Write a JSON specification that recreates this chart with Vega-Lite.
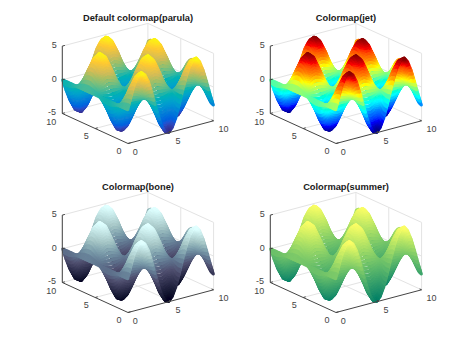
{"$schema":"https://vega.github.io/schema/vega-lite/v6.json","background":"white","padding":{"left":34,"top":13.5,"right":0,"bottom":0},"config":{"view":{"stroke":null},"title":{"font":"Liberation Sans","fontSize":9.3,"fontWeight":"bold","color":"#1a1a1a","offset":-3}},"columns":2,"bounds":"flush","spacing":{"row":19,"column":0},"resolve":{"scale":{"color":"independent"}},
"datasets":{
"frame":[{"kind":"grid","x":0,"y":10,"z":-5,"x2":0,"y2":10,"z2":5},{"kind":"grid","x":5,"y":10,"z":-5,"x2":5,"y2":10,"z2":5},{"kind":"grid","x":10,"y":10,"z":-5,"x2":10,"y2":10,"z2":5},{"kind":"grid","x":10,"y":5,"z":-5,"x2":10,"y2":5,"z2":5},{"kind":"grid","x":10,"y":0,"z":-5,"x2":10,"y2":0,"z2":5},{"kind":"grid","x":0,"y":10,"z":0,"x2":10,"y2":10,"z2":0},{"kind":"grid","x":0,"y":10,"z":5,"x2":10,"y2":10,"z2":5},{"kind":"grid","x":0,"y":10,"z":-5,"x2":10,"y2":10,"z2":-5},{"kind":"grid","x":10,"y":0,"z":0,"x2":10,"y2":10,"z2":0},{"kind":"grid","x":10,"y":0,"z":5,"x2":10,"y2":10,"z2":5},{"kind":"grid","x":10,"y":0,"z":-5,"x2":10,"y2":10,"z2":-5},{"kind":"grid","x":5,"y":0,"z":-5,"x2":5,"y2":10,"z2":-5},{"kind":"grid","x":0,"y":5,"z":-5,"x2":10,"y2":5,"z2":-5},
{"kind":"axis","x":0,"y":10,"z":-5,"x2":0,"y2":10,"z2":5},{"kind":"axis","x":0,"y":0,"z":-5,"x2":0,"y2":10,"z2":-5},{"kind":"axis","x":0,"y":0,"z":-5,"x2":10,"y2":0,"z2":-5},{"kind":"axis","x":0,"y":10,"z":5,"x2":0.3,"y2":10,"z2":5},{"kind":"axis","x":0,"y":10,"z":0,"x2":0.3,"y2":10,"z2":0},{"kind":"axis","x":0,"y":10,"z":-5,"x2":0.3,"y2":10,"z2":-5},{"kind":"axis","x":5,"y":0,"z":-5,"x2":5,"y2":0.3,"z2":-5},{"kind":"axis","x":10,"y":0,"z":-5,"x2":10,"y2":0.3,"z2":-5},{"kind":"axis","x":0,"y":5,"z":-5,"x2":0.3,"y2":5,"z2":-5},{"kind":"axis","x":0,"y":0,"z":-5,"x2":0.3,"y2":0,"z2":-5}],
"ticks":[{"axis":"x","x":0,"y":0,"z":-5,"label":"0"},{"axis":"x","x":5,"y":0,"z":-5,"label":"5"},{"axis":"x","x":10,"y":0,"z":-5,"label":"10"},{"axis":"y","x":0,"y":0,"z":-5,"label":"0"},{"axis":"y","x":0,"y":5,"z":-5,"label":"5"},{"axis":"y","x":0,"y":10,"z":-5,"label":"10"},{"axis":"z","x":0,"y":10,"z":-5,"label":"-5"},{"axis":"z","x":0,"y":10,"z":0,"label":"0"},{"axis":"z","x":0,"y":10,"z":5,"label":"5"}],
"surface":[
{"x":0,"y":0,"z":0},{"x":0.4,"y":0,"z":1.9},{"x":0.8,"y":0,"z":3.6},{"x":1.2,"y":0,"z":4.7},{"x":1.6,"y":0,"z":5},{"x":2,"y":0,"z":4.5},{"x":2.4,"y":0,"z":3.4},{"x":2.8,"y":0,"z":1.7},{"x":3.2,"y":0,"z":-0.3},{"x":3.6,"y":0,"z":-2.2},{"x":4,"y":0,"z":-3.8},{"x":4.4,"y":0,"z":-4.8},{"x":4.8,"y":0,"z":-5},{"x":5.2,"y":0,"z":-4.4},{"x":5.6,"y":0,"z":-3.2},{"x":6,"y":0,"z":-1.4},{"x":6.4,"y":0,"z":0.6},{"x":6.8,"y":0,"z":2.5},{"x":7.2,"y":0,"z":4},{"x":7.6,"y":0,"z":4.8},{"x":8,"y":0,"z":5},{"x":8.4,"y":0,"z":4.3},{"x":8.8,"y":0,"z":2.9},{"x":9.2,"y":0,"z":1.1},{"x":9.6,"y":0,"z":-0.9},{"x":10,"y":0,"z":-2.7},
{"x":0,"y":0.4,"z":0},{"x":0.4,"y":0.4,"z":1.8},{"x":0.8,"y":0.4,"z":3.3},{"x":1.2,"y":0.4,"z":4.3},{"x":1.6,"y":0.4,"z":4.6},{"x":2,"y":0.4,"z":4.2},{"x":2.4,"y":0.4,"z":3.1},{"x":2.8,"y":0.4,"z":1.5},{"x":3.2,"y":0.4,"z":-0.3},{"x":3.6,"y":0.4,"z":-2},{"x":4,"y":0.4,"z":-3.5},{"x":4.4,"y":0.4,"z":-4.4},{"x":4.8,"y":0.4,"z":-4.6},{"x":5.2,"y":0.4,"z":-4.1},{"x":5.6,"y":0.4,"z":-2.9},{"x":6,"y":0.4,"z":-1.3},{"x":6.4,"y":0.4,"z":0.5},{"x":6.8,"y":0.4,"z":2.3},{"x":7.2,"y":0.4,"z":3.7},{"x":7.6,"y":0.4,"z":4.5},{"x":8,"y":0.4,"z":4.6},{"x":8.4,"y":0.4,"z":3.9},{"x":8.8,"y":0.4,"z":2.7},{"x":9.2,"y":0.4,"z":1},{"x":9.6,"y":0.4,"z":-0.8},{"x":10,"y":0.4,"z":-2.5},
{"x":0,"y":0.8,"z":0},{"x":0.4,"y":0.8,"z":1.4},{"x":0.8,"y":0.8,"z":2.5},{"x":1.2,"y":0.8,"z":3.2},{"x":1.6,"y":0.8,"z":3.5},{"x":2,"y":0.8,"z":3.2},{"x":2.4,"y":0.8,"z":2.4},{"x":2.8,"y":0.8,"z":1.2},{"x":3.2,"y":0.8,"z":-0.2},{"x":3.6,"y":0.8,"z":-1.5},{"x":4,"y":0.8,"z":-2.6},{"x":4.4,"y":0.8,"z":-3.3},{"x":4.8,"y":0.8,"z":-3.5},{"x":5.2,"y":0.8,"z":-3.1},{"x":5.6,"y":0.8,"z":-2.2},{"x":6,"y":0.8,"z":-1},{"x":6.4,"y":0.8,"z":0.4},{"x":6.8,"y":0.8,"z":1.7},{"x":7.2,"y":0.8,"z":2.8},{"x":7.6,"y":0.8,"z":3.4},{"x":8,"y":0.8,"z":3.4},{"x":8.4,"y":0.8,"z":3},{"x":8.8,"y":0.8,"z":2},{"x":9.2,"y":0.8,"z":0.8},{"x":9.6,"y":0.8,"z":-0.6},{"x":10,"y":0.8,"z":-1.9},
{"x":0,"y":1.2,"z":0},{"x":0.4,"y":1.2,"z":0.7},{"x":0.8,"y":1.2,"z":1.3},{"x":1.2,"y":1.2,"z":1.7},{"x":1.6,"y":1.2,"z":1.8},{"x":2,"y":1.2,"z":1.6},{"x":2.4,"y":1.2,"z":1.2},{"x":2.8,"y":1.2,"z":0.6},{"x":3.2,"y":1.2,"z":-0.1},{"x":3.6,"y":1.2,"z":-0.8},{"x":4,"y":1.2,"z":-1.4},{"x":4.4,"y":1.2,"z":-1.7},{"x":4.8,"y":1.2,"z":-1.8},{"x":5.2,"y":1.2,"z":-1.6},{"x":5.6,"y":1.2,"z":-1.1},{"x":6,"y":1.2,"z":-0.5},{"x":6.4,"y":1.2,"z":0.2},{"x":6.8,"y":1.2,"z":0.9},{"x":7.2,"y":1.2,"z":1.4},{"x":7.6,"y":1.2,"z":1.8},{"x":8,"y":1.2,"z":1.8},{"x":8.4,"y":1.2,"z":1.5},{"x":8.8,"y":1.2,"z":1.1},{"x":9.2,"y":1.2,"z":0.4},{"x":9.6,"y":1.2,"z":-0.3},{"x":10,"y":1.2,"z":-1},
{"x":0,"y":1.6,"z":0},{"x":0.4,"y":1.6,"z":-0.1},{"x":0.8,"y":1.6,"z":-0.1},{"x":1.2,"y":1.6,"z":-0.1},{"x":1.6,"y":1.6,"z":-0.1},{"x":2,"y":1.6,"z":-0.1},{"x":2.4,"y":1.6,"z":-0.1},{"x":2.8,"y":1.6,"z":0},{"x":3.2,"y":1.6,"z":0},{"x":3.6,"y":1.6,"z":0.1},{"x":4,"y":1.6,"z":0.1},{"x":4.4,"y":1.6,"z":0.1},{"x":4.8,"y":1.6,"z":0.1},{"x":5.2,"y":1.6,"z":0.1},{"x":5.6,"y":1.6,"z":0.1},{"x":6,"y":1.6,"z":0},{"x":6.4,"y":1.6,"z":0},{"x":6.8,"y":1.6,"z":-0.1},{"x":7.2,"y":1.6,"z":-0.1},{"x":7.6,"y":1.6,"z":-0.1},{"x":8,"y":1.6,"z":-0.1},{"x":8.4,"y":1.6,"z":-0.1},{"x":8.8,"y":1.6,"z":-0.1},{"x":9.2,"y":1.6,"z":0},{"x":9.6,"y":1.6,"z":0},{"x":10,"y":1.6,"z":0.1},
{"x":0,"y":2,"z":0},{"x":0.4,"y":2,"z":-0.8},{"x":0.8,"y":2,"z":-1.5},{"x":1.2,"y":2,"z":-1.9},{"x":1.6,"y":2,"z":-2.1},{"x":2,"y":2,"z":-1.9},{"x":2.4,"y":2,"z":-1.4},{"x":2.8,"y":2,"z":-0.7},{"x":3.2,"y":2,"z":0.1},{"x":3.6,"y":2,"z":0.9},{"x":4,"y":2,"z":1.6},{"x":4.4,"y":2,"z":2},{"x":4.8,"y":2,"z":2.1},{"x":5.2,"y":2,"z":1.8},{"x":5.6,"y":2,"z":1.3},{"x":6,"y":2,"z":0.6},{"x":6.4,"y":2,"z":-0.2},{"x":6.8,"y":2,"z":-1},{"x":7.2,"y":2,"z":-1.7},{"x":7.6,"y":2,"z":-2},{"x":8,"y":2,"z":-2.1},{"x":8.4,"y":2,"z":-1.8},{"x":8.8,"y":2,"z":-1.2},{"x":9.2,"y":2,"z":-0.5},{"x":9.6,"y":2,"z":0.4},{"x":10,"y":2,"z":1.1},
{"x":0,"y":2.4,"z":0},{"x":0.4,"y":2.4,"z":-1.4},{"x":0.8,"y":2.4,"z":-2.6},{"x":1.2,"y":2.4,"z":-3.4},{"x":1.6,"y":2.4,"z":-3.7},{"x":2,"y":2.4,"z":-3.4},{"x":2.4,"y":2.4,"z":-2.5},{"x":2.8,"y":2.4,"z":-1.2},{"x":3.2,"y":2.4,"z":0.2},{"x":3.6,"y":2.4,"z":1.6},{"x":4,"y":2.4,"z":2.8},{"x":4.4,"y":2.4,"z":3.5},{"x":4.8,"y":2.4,"z":3.7},{"x":5.2,"y":2.4,"z":3.3},{"x":5.6,"y":2.4,"z":2.3},{"x":6,"y":2.4,"z":1},{"x":6.4,"y":2.4,"z":-0.4},{"x":6.8,"y":2.4,"z":-1.8},{"x":7.2,"y":2.4,"z":-2.9},{"x":7.6,"y":2.4,"z":-3.6},{"x":8,"y":2.4,"z":-3.7},{"x":8.4,"y":2.4,"z":-3.1},{"x":8.8,"y":2.4,"z":-2.2},{"x":9.2,"y":2.4,"z":-0.8},{"x":9.6,"y":2.4,"z":0.6},{"x":10,"y":2.4,"z":2},
{"x":0,"y":2.8,"z":0},{"x":0.4,"y":2.8,"z":-1.8},{"x":0.8,"y":2.8,"z":-3.4},{"x":1.2,"y":2.8,"z":-4.4},{"x":1.6,"y":2.8,"z":-4.7},{"x":2,"y":2.8,"z":-4.3},{"x":2.4,"y":2.8,"z":-3.2},{"x":2.8,"y":2.8,"z":-1.6},{"x":3.2,"y":2.8,"z":0.3},{"x":3.6,"y":2.8,"z":2.1},{"x":4,"y":2.8,"z":3.6},{"x":4.4,"y":2.8,"z":4.5},{"x":4.8,"y":2.8,"z":4.7},{"x":5.2,"y":2.8,"z":4.2},{"x":5.6,"y":2.8,"z":3},{"x":6,"y":2.8,"z":1.3},{"x":6.4,"y":2.8,"z":-0.5},{"x":6.8,"y":2.8,"z":-2.3},{"x":7.2,"y":2.8,"z":-3.7},{"x":7.6,"y":2.8,"z":-4.6},{"x":8,"y":2.8,"z":-4.7},{"x":8.4,"y":2.8,"z":-4},{"x":8.8,"y":2.8,"z":-2.8},{"x":9.2,"y":2.8,"z":-1},{"x":9.6,"y":2.8,"z":0.8},{"x":10,"y":2.8,"z":2.6},
{"x":0,"y":3.2,"z":0},{"x":0.4,"y":3.2,"z":-1.9},{"x":0.8,"y":3.2,"z":-3.6},{"x":1.2,"y":3.2,"z":-4.7},{"x":1.6,"y":3.2,"z":-5},{"x":2,"y":3.2,"z":-4.5},{"x":2.4,"y":3.2,"z":-3.4},{"x":2.8,"y":3.2,"z":-1.7},{"x":3.2,"y":3.2,"z":0.3},{"x":3.6,"y":3.2,"z":2.2},{"x":4,"y":3.2,"z":3.8},{"x":4.4,"y":3.2,"z":4.8},{"x":4.8,"y":3.2,"z":5},{"x":5.2,"y":3.2,"z":4.4},{"x":5.6,"y":3.2,"z":3.2},{"x":6,"y":3.2,"z":1.4},{"x":6.4,"y":3.2,"z":-0.6},{"x":6.8,"y":3.2,"z":-2.5},{"x":7.2,"y":3.2,"z":-4},{"x":7.6,"y":3.2,"z":-4.8},{"x":8,"y":3.2,"z":-4.9},{"x":8.4,"y":3.2,"z":-4.3},{"x":8.8,"y":3.2,"z":-2.9},{"x":9.2,"y":3.2,"z":-1.1},{"x":9.6,"y":3.2,"z":0.9},{"x":10,"y":3.2,"z":2.7},
{"x":0,"y":3.6,"z":0},{"x":0.4,"y":3.6,"z":-1.7},{"x":0.8,"y":3.6,"z":-3.2},{"x":1.2,"y":3.6,"z":-4.2},{"x":1.6,"y":3.6,"z":-4.5},{"x":2,"y":3.6,"z":-4.1},{"x":2.4,"y":3.6,"z":-3},{"x":2.8,"y":3.6,"z":-1.5},{"x":3.2,"y":3.6,"z":0.3},{"x":3.6,"y":3.6,"z":2},{"x":4,"y":3.6,"z":3.4},{"x":4.4,"y":3.6,"z":4.3},{"x":4.8,"y":3.6,"z":4.5},{"x":5.2,"y":3.6,"z":4},{"x":5.6,"y":3.6,"z":2.8},{"x":6,"y":3.6,"z":1.3},{"x":6.4,"y":3.6,"z":-0.5},{"x":6.8,"y":3.6,"z":-2.2},{"x":7.2,"y":3.6,"z":-3.6},{"x":7.6,"y":3.6,"z":-4.3},{"x":8,"y":3.6,"z":-4.4},{"x":8.4,"y":3.6,"z":-3.8},{"x":8.8,"y":3.6,"z":-2.6},{"x":9.2,"y":3.6,"z":-1},{"x":9.6,"y":3.6,"z":0.8},{"x":10,"y":3.6,"z":2.4},
{"x":0,"y":4,"z":0},{"x":0.4,"y":4,"z":-1.3},{"x":0.8,"y":4,"z":-2.3},{"x":1.2,"y":4,"z":-3},{"x":1.6,"y":4,"z":-3.3},{"x":2,"y":4,"z":-3},{"x":2.4,"y":4,"z":-2.2},{"x":2.8,"y":4,"z":-1.1},{"x":3.2,"y":4,"z":0.2},{"x":3.6,"y":4,"z":1.4},{"x":4,"y":4,"z":2.5},{"x":4.4,"y":4,"z":3.1},{"x":4.8,"y":4,"z":3.3},{"x":5.2,"y":4,"z":2.9},{"x":5.6,"y":4,"z":2.1},{"x":6,"y":4,"z":0.9},{"x":6.4,"y":4,"z":-0.4},{"x":6.8,"y":4,"z":-1.6},{"x":7.2,"y":4,"z":-2.6},{"x":7.6,"y":4,"z":-3.2},{"x":8,"y":4,"z":-3.2},{"x":8.4,"y":4,"z":-2.8},{"x":8.8,"y":4,"z":-1.9},{"x":9.2,"y":4,"z":-0.7},{"x":9.6,"y":4,"z":0.6},{"x":10,"y":4,"z":1.8},
{"x":0,"y":4.4,"z":0},{"x":0.4,"y":4.4,"z":-0.6},{"x":0.8,"y":4.4,"z":-1.1},{"x":1.2,"y":4.4,"z":-1.4},{"x":1.6,"y":4.4,"z":-1.5},{"x":2,"y":4.4,"z":-1.4},{"x":2.4,"y":4.4,"z":-1},{"x":2.8,"y":4.4,"z":-0.5},{"x":3.2,"y":4.4,"z":0.1},{"x":3.6,"y":4.4,"z":0.7},{"x":4,"y":4.4,"z":1.2},{"x":4.4,"y":4.4,"z":1.5},{"x":4.8,"y":4.4,"z":1.5},{"x":5.2,"y":4.4,"z":1.4},{"x":5.6,"y":4.4,"z":1},{"x":6,"y":4.4,"z":0.4},{"x":6.4,"y":4.4,"z":-0.2},{"x":6.8,"y":4.4,"z":-0.8},{"x":7.2,"y":4.4,"z":-1.2},{"x":7.6,"y":4.4,"z":-1.5},{"x":8,"y":4.4,"z":-1.5},{"x":8.4,"y":4.4,"z":-1.3},{"x":8.8,"y":4.4,"z":-0.9},{"x":9.2,"y":4.4,"z":-0.3},{"x":9.6,"y":4.4,"z":0.3},{"x":10,"y":4.4,"z":0.8},
{"x":0,"y":4.8,"z":0},{"x":0.4,"y":4.8,"z":0.2},{"x":0.8,"y":4.8,"z":0.3},{"x":1.2,"y":4.8,"z":0.4},{"x":1.6,"y":4.8,"z":0.4},{"x":2,"y":4.8,"z":0.4},{"x":2.4,"y":4.8,"z":0.3},{"x":2.8,"y":4.8,"z":0.1},{"x":3.2,"y":4.8,"z":0},{"x":3.6,"y":4.8,"z":-0.2},{"x":4,"y":4.8,"z":-0.3},{"x":4.4,"y":4.8,"z":-0.4},{"x":4.8,"y":4.8,"z":-0.4},{"x":5.2,"y":4.8,"z":-0.4},{"x":5.6,"y":4.8,"z":-0.3},{"x":6,"y":4.8,"z":-0.1},{"x":6.4,"y":4.8,"z":0.1},{"x":6.8,"y":4.8,"z":0.2},{"x":7.2,"y":4.8,"z":0.3},{"x":7.6,"y":4.8,"z":0.4},{"x":8,"y":4.8,"z":0.4},{"x":8.4,"y":4.8,"z":0.4},{"x":8.8,"y":4.8,"z":0.3},{"x":9.2,"y":4.8,"z":0.1},{"x":9.6,"y":4.8,"z":-0.1},{"x":10,"y":4.8,"z":-0.2},
{"x":0,"y":5.2,"z":0},{"x":0.4,"y":5.2,"z":0.9},{"x":0.8,"y":5.2,"z":1.7},{"x":1.2,"y":5.2,"z":2.2},{"x":1.6,"y":5.2,"z":2.3},{"x":2,"y":5.2,"z":2.1},{"x":2.4,"y":5.2,"z":1.6},{"x":2.8,"y":5.2,"z":0.8},{"x":3.2,"y":5.2,"z":-0.1},{"x":3.6,"y":5.2,"z":-1},{"x":4,"y":5.2,"z":-1.8},{"x":4.4,"y":5.2,"z":-2.2},{"x":4.8,"y":5.2,"z":-2.3},{"x":5.2,"y":5.2,"z":-2.1},{"x":5.6,"y":5.2,"z":-1.5},{"x":6,"y":5.2,"z":-0.7},{"x":6.4,"y":5.2,"z":0.3},{"x":6.8,"y":5.2,"z":1.2},{"x":7.2,"y":5.2,"z":1.9},{"x":7.6,"y":5.2,"z":2.3},{"x":8,"y":5.2,"z":2.3},{"x":8.4,"y":5.2,"z":2},{"x":8.8,"y":5.2,"z":1.4},{"x":9.2,"y":5.2,"z":0.5},{"x":9.6,"y":5.2,"z":-0.4},{"x":10,"y":5.2,"z":-1.3},
{"x":0,"y":5.6,"z":0},{"x":0.4,"y":5.6,"z":1.5},{"x":0.8,"y":5.6,"z":2.8},{"x":1.2,"y":5.6,"z":3.6},{"x":1.6,"y":5.6,"z":3.9},{"x":2,"y":5.6,"z":3.5},{"x":2.4,"y":5.6,"z":2.6},{"x":2.8,"y":5.6,"z":1.3},{"x":3.2,"y":5.6,"z":-0.2},{"x":3.6,"y":5.6,"z":-1.7},{"x":4,"y":5.6,"z":-2.9},{"x":4.4,"y":5.6,"z":-3.7},{"x":4.8,"y":5.6,"z":-3.9},{"x":5.2,"y":5.6,"z":-3.4},{"x":5.6,"y":5.6,"z":-2.5},{"x":6,"y":5.6,"z":-1.1},{"x":6.4,"y":5.6,"z":0.4},{"x":6.8,"y":5.6,"z":1.9},{"x":7.2,"y":5.6,"z":3.1},{"x":7.6,"y":5.6,"z":3.8},{"x":8,"y":5.6,"z":3.8},{"x":8.4,"y":5.6,"z":3.3},{"x":8.8,"y":5.6,"z":2.3},{"x":9.2,"y":5.6,"z":0.9},{"x":9.6,"y":5.6,"z":-0.7},{"x":10,"y":5.6,"z":-2.1},
{"x":0,"y":6,"z":0},{"x":0.4,"y":6,"z":1.9},{"x":0.8,"y":6,"z":3.4},{"x":1.2,"y":6,"z":4.5},{"x":1.6,"y":6,"z":4.8},{"x":2,"y":6,"z":4.4},{"x":2.4,"y":6,"z":3.2},{"x":2.8,"y":6,"z":1.6},{"x":3.2,"y":6,"z":-0.3},{"x":3.6,"y":6,"z":-2.1},{"x":4,"y":6,"z":-3.6},{"x":4.4,"y":6,"z":-4.6},{"x":4.8,"y":6,"z":-4.8},{"x":5.2,"y":6,"z":-4.2},{"x":5.6,"y":6,"z":-3},{"x":6,"y":6,"z":-1.3},{"x":6.4,"y":6,"z":0.6},{"x":6.8,"y":6,"z":2.4},{"x":7.2,"y":6,"z":3.8},{"x":7.6,"y":6,"z":4.6},{"x":8,"y":6,"z":4.8},{"x":8.4,"y":6,"z":4.1},{"x":8.8,"y":6,"z":2.8},{"x":9.2,"y":6,"z":1.1},{"x":9.6,"y":6,"z":-0.8},{"x":10,"y":6,"z":-2.6},
{"x":0,"y":6.4,"z":0},{"x":0.4,"y":6.4,"z":1.9},{"x":0.8,"y":6.4,"z":3.6},{"x":1.2,"y":6.4,"z":4.6},{"x":1.6,"y":6.4,"z":5},{"x":2,"y":6.4,"z":4.5},{"x":2.4,"y":6.4,"z":3.4},{"x":2.8,"y":6.4,"z":1.7},{"x":3.2,"y":6.4,"z":-0.3},{"x":3.6,"y":6.4,"z":-2.2},{"x":4,"y":6.4,"z":-3.8},{"x":4.4,"y":6.4,"z":-4.7},{"x":4.8,"y":6.4,"z":-4.9},{"x":5.2,"y":6.4,"z":-4.4},{"x":5.6,"y":6.4,"z":-3.1},{"x":6,"y":6.4,"z":-1.4},{"x":6.4,"y":6.4,"z":0.6},{"x":6.8,"y":6.4,"z":2.5},{"x":7.2,"y":6.4,"z":3.9},{"x":7.6,"y":6.4,"z":4.8},{"x":8,"y":6.4,"z":4.9},{"x":8.4,"y":6.4,"z":4.2},{"x":8.8,"y":6.4,"z":2.9},{"x":9.2,"y":6.4,"z":1.1},{"x":9.6,"y":6.4,"z":-0.9},{"x":10,"y":6.4,"z":-2.7},
{"x":0,"y":6.8,"z":0},{"x":0.4,"y":6.8,"z":1.7},{"x":0.8,"y":6.8,"z":3.1},{"x":1.2,"y":6.8,"z":4.1},{"x":1.6,"y":6.8,"z":4.3},{"x":2,"y":6.8,"z":4},{"x":2.4,"y":6.8,"z":2.9},{"x":2.8,"y":6.8,"z":1.5},{"x":3.2,"y":6.8,"z":-0.3},{"x":3.6,"y":6.8,"z":-1.9},{"x":4,"y":6.8,"z":-3.3},{"x":4.4,"y":6.8,"z":-4.1},{"x":4.8,"y":6.8,"z":-4.3},{"x":5.2,"y":6.8,"z":-3.8},{"x":5.6,"y":6.8,"z":-2.7},{"x":6,"y":6.8,"z":-1.2},{"x":6.4,"y":6.8,"z":0.5},{"x":6.8,"y":6.8,"z":2.1},{"x":7.2,"y":6.8,"z":3.5},{"x":7.6,"y":6.8,"z":4.2},{"x":8,"y":6.8,"z":4.3},{"x":8.4,"y":6.8,"z":3.7},{"x":8.8,"y":6.8,"z":2.5},{"x":9.2,"y":6.8,"z":1},{"x":9.6,"y":6.8,"z":-0.8},{"x":10,"y":6.8,"z":-2.4},
{"x":0,"y":7.2,"z":0},{"x":0.4,"y":7.2,"z":1.2},{"x":0.8,"y":7.2,"z":2.2},{"x":1.2,"y":7.2,"z":2.8},{"x":1.6,"y":7.2,"z":3},{"x":2,"y":7.2,"z":2.8},{"x":2.4,"y":7.2,"z":2.1},{"x":2.8,"y":7.2,"z":1},{"x":3.2,"y":7.2,"z":-0.2},{"x":3.6,"y":7.2,"z":-1.3},{"x":4,"y":7.2,"z":-2.3},{"x":4.4,"y":7.2,"z":-2.9},{"x":4.8,"y":7.2,"z":-3},{"x":5.2,"y":7.2,"z":-2.7},{"x":5.6,"y":7.2,"z":-1.9},{"x":6,"y":7.2,"z":-0.9},{"x":6.4,"y":7.2,"z":0.4},{"x":6.8,"y":7.2,"z":1.5},{"x":7.2,"y":7.2,"z":2.4},{"x":7.6,"y":7.2,"z":2.9},{"x":8,"y":7.2,"z":3},{"x":8.4,"y":7.2,"z":2.6},{"x":8.8,"y":7.2,"z":1.8},{"x":9.2,"y":7.2,"z":0.7},{"x":9.6,"y":7.2,"z":-0.5},{"x":10,"y":7.2,"z":-1.7},
{"x":0,"y":7.6,"z":0},{"x":0.4,"y":7.6,"z":0.5},{"x":0.8,"y":7.6,"z":0.9},{"x":1.2,"y":7.6,"z":1.2},{"x":1.6,"y":7.6,"z":1.3},{"x":2,"y":7.6,"z":1.1},{"x":2.4,"y":7.6,"z":0.8},{"x":2.8,"y":7.6,"z":0.4},{"x":3.2,"y":7.6,"z":-0.1},{"x":3.6,"y":7.6,"z":-0.6},{"x":4,"y":7.6,"z":-0.9},{"x":4.4,"y":7.6,"z":-1.2},{"x":4.8,"y":7.6,"z":-1.3},{"x":5.2,"y":7.6,"z":-1.1},{"x":5.6,"y":7.6,"z":-0.8},{"x":6,"y":7.6,"z":-0.4},{"x":6.4,"y":7.6,"z":0.1},{"x":6.8,"y":7.6,"z":0.6},{"x":7.2,"y":7.6,"z":1},{"x":7.6,"y":7.6,"z":1.2},{"x":8,"y":7.6,"z":1.2},{"x":8.4,"y":7.6,"z":1.1},{"x":8.8,"y":7.6,"z":0.7},{"x":9.2,"y":7.6,"z":0.3},{"x":9.6,"y":7.6,"z":-0.2},{"x":10,"y":7.6,"z":-0.7},
{"x":0,"y":8,"z":0},{"x":0.4,"y":8,"z":-0.3},{"x":0.8,"y":8,"z":-0.5},{"x":1.2,"y":8,"z":-0.7},{"x":1.6,"y":8,"z":-0.7},{"x":2,"y":8,"z":-0.7},{"x":2.4,"y":8,"z":-0.5},{"x":2.8,"y":8,"z":-0.2},{"x":3.2,"y":8,"z":0},{"x":3.6,"y":8,"z":0.3},{"x":4,"y":8,"z":0.6},{"x":4.4,"y":8,"z":0.7},{"x":4.8,"y":8,"z":0.7},{"x":5.2,"y":8,"z":0.6},{"x":5.6,"y":8,"z":0.5},{"x":6,"y":8,"z":0.2},{"x":6.4,"y":8,"z":-0.1},{"x":6.8,"y":8,"z":-0.4},{"x":7.2,"y":8,"z":-0.6},{"x":7.6,"y":8,"z":-0.7},{"x":8,"y":8,"z":-0.7},{"x":8.4,"y":8,"z":-0.6},{"x":8.8,"y":8,"z":-0.4},{"x":9.2,"y":8,"z":-0.2},{"x":9.6,"y":8,"z":0.1},{"x":10,"y":8,"z":0.4},
{"x":0,"y":8.4,"z":0},{"x":0.4,"y":8.4,"z":-1},{"x":0.8,"y":8.4,"z":-1.9},{"x":1.2,"y":8.4,"z":-2.4},{"x":1.6,"y":8.4,"z":-2.6},{"x":2,"y":8.4,"z":-2.4},{"x":2.4,"y":8.4,"z":-1.8},{"x":2.8,"y":8.4,"z":-0.9},{"x":3.2,"y":8.4,"z":0.2},{"x":3.6,"y":8.4,"z":1.1},{"x":4,"y":8.4,"z":2},{"x":4.4,"y":8.4,"z":2.5},{"x":4.8,"y":8.4,"z":2.6},{"x":5.2,"y":8.4,"z":2.3},{"x":5.6,"y":8.4,"z":1.6},{"x":6,"y":8.4,"z":0.7},{"x":6.4,"y":8.4,"z":-0.3},{"x":6.8,"y":8.4,"z":-1.3},{"x":7.2,"y":8.4,"z":-2.1},{"x":7.6,"y":8.4,"z":-2.5},{"x":8,"y":8.4,"z":-2.6},{"x":8.4,"y":8.4,"z":-2.2},{"x":8.8,"y":8.4,"z":-1.5},{"x":9.2,"y":8.4,"z":-0.6},{"x":9.6,"y":8.4,"z":0.5},{"x":10,"y":8.4,"z":1.4},
{"x":0,"y":8.8,"z":0},{"x":0.4,"y":8.8,"z":-1.6},{"x":0.8,"y":8.8,"z":-2.9},{"x":1.2,"y":8.8,"z":-3.8},{"x":1.6,"y":8.8,"z":-4.1},{"x":2,"y":8.8,"z":-3.7},{"x":2.4,"y":8.8,"z":-2.7},{"x":2.8,"y":8.8,"z":-1.4},{"x":3.2,"y":8.8,"z":0.2},{"x":3.6,"y":8.8,"z":1.8},{"x":4,"y":8.8,"z":3.1},{"x":4.4,"y":8.8,"z":3.9},{"x":4.8,"y":8.8,"z":4},{"x":5.2,"y":8.8,"z":3.6},{"x":5.6,"y":8.8,"z":2.6},{"x":6,"y":8.8,"z":1.1},{"x":6.4,"y":8.8,"z":-0.5},{"x":6.8,"y":8.8,"z":-2},{"x":7.2,"y":8.8,"z":-3.2},{"x":7.6,"y":8.8,"z":-3.9},{"x":8,"y":8.8,"z":-4},{"x":8.4,"y":8.8,"z":-3.5},{"x":8.8,"y":8.8,"z":-2.4},{"x":9.2,"y":8.8,"z":-0.9},{"x":9.6,"y":8.8,"z":0.7},{"x":10,"y":8.8,"z":2.2},
{"x":0,"y":9.2,"z":0},{"x":0.4,"y":9.2,"z":-1.9},{"x":0.8,"y":9.2,"z":-3.5},{"x":1.2,"y":9.2,"z":-4.5},{"x":1.6,"y":9.2,"z":-4.9},{"x":2,"y":9.2,"z":-4.4},{"x":2.4,"y":9.2,"z":-3.3},{"x":2.8,"y":9.2,"z":-1.6},{"x":3.2,"y":9.2,"z":0.3},{"x":3.6,"y":9.2,"z":2.2},{"x":4,"y":9.2,"z":3.7},{"x":4.4,"y":9.2,"z":4.6},{"x":4.8,"y":9.2,"z":4.9},{"x":5.2,"y":9.2,"z":4.3},{"x":5.6,"y":9.2,"z":3.1},{"x":6,"y":9.2,"z":1.4},{"x":6.4,"y":9.2,"z":-0.6},{"x":6.8,"y":9.2,"z":-2.4},{"x":7.2,"y":9.2,"z":-3.9},{"x":7.6,"y":9.2,"z":-4.7},{"x":8,"y":9.2,"z":-4.8},{"x":8.4,"y":9.2,"z":-4.2},{"x":8.8,"y":9.2,"z":-2.8},{"x":9.2,"y":9.2,"z":-1.1},{"x":9.6,"y":9.2,"z":0.8},{"x":10,"y":9.2,"z":2.7},
{"x":0,"y":9.6,"z":0},{"x":0.4,"y":9.6,"z":-1.9},{"x":0.8,"y":9.6,"z":-3.5},{"x":1.2,"y":9.6,"z":-4.6},{"x":1.6,"y":9.6,"z":-4.9},{"x":2,"y":9.6,"z":-4.5},{"x":2.4,"y":9.6,"z":-3.3},{"x":2.8,"y":9.6,"z":-1.7},{"x":3.2,"y":9.6,"z":0.3},{"x":3.6,"y":9.6,"z":2.2},{"x":4,"y":9.6,"z":3.7},{"x":4.4,"y":9.6,"z":4.7},{"x":4.8,"y":9.6,"z":4.9},{"x":5.2,"y":9.6,"z":4.4},{"x":5.6,"y":9.6,"z":3.1},{"x":6,"y":9.6,"z":1.4},{"x":6.4,"y":9.6,"z":-0.6},{"x":6.8,"y":9.6,"z":-2.4},{"x":7.2,"y":9.6,"z":-3.9},{"x":7.6,"y":9.6,"z":-4.8},{"x":8,"y":9.6,"z":-4.9},{"x":8.4,"y":9.6,"z":-4.2},{"x":8.8,"y":9.6,"z":-2.9},{"x":9.2,"y":9.6,"z":-1.1},{"x":9.6,"y":9.6,"z":0.9},{"x":10,"y":9.6,"z":2.7},
{"x":0,"y":10,"z":0},{"x":0.4,"y":10,"z":-1.6},{"x":0.8,"y":10,"z":-3},{"x":1.2,"y":10,"z":-3.9},{"x":1.6,"y":10,"z":-4.2},{"x":2,"y":10,"z":-3.8},{"x":2.4,"y":10,"z":-2.8},{"x":2.8,"y":10,"z":-1.4},{"x":3.2,"y":10,"z":0.2},{"x":3.6,"y":10,"z":1.9},{"x":4,"y":10,"z":3.2},{"x":4.4,"y":10,"z":4},{"x":4.8,"y":10,"z":4.2},{"x":5.2,"y":10,"z":3.7},{"x":5.6,"y":10,"z":2.7},{"x":6,"y":10,"z":1.2},{"x":6.4,"y":10,"z":-0.5},{"x":6.8,"y":10,"z":-2.1},{"x":7.2,"y":10,"z":-3.3},{"x":7.6,"y":10,"z":-4.1},{"x":8,"y":10,"z":-4.2},{"x":8.4,"y":10,"z":-3.6},{"x":8.8,"y":10,"z":-2.5},{"x":9.2,"y":10,"z":-0.9},{"x":9.6,"y":10,"z":0.7},{"x":10,"y":10,"z":2.3}]},
"concat":[
{"title":"Default colormap(parula)","width":208,"height":150,"encoding":{"x":{"field":"sx","type":"quantitative","scale":{"domain":[-94,114],"nice":false,"zero":false},"axis":null},"y":{"field":"sy","type":"quantitative","scale":{"domain":[-27,123],"nice":false,"zero":false},"axis":null}},"layer":[
{"data":{"name":"frame"},"transform":[{"filter":"datum.kind=='grid'"},{"calculate":"8.56*datum.x-6.57*datum.y","as":"sx"},{"calculate":"2.27*datum.x+3*datum.y+6.74*(datum.z+5)","as":"sy"},{"calculate":"8.56*datum.x2-6.57*datum.y2","as":"sx2"},{"calculate":"2.27*datum.x2+3*datum.y2+6.74*(datum.z2+5)","as":"sy2"}],"mark":{"type":"rule","color":"#e3e3e3","strokeWidth":1},"encoding":{"x2":{"field":"sx2"},"y2":{"field":"sy2"}}},
{"data":{"name":"surface"},"transform":[{"calculate":"8.56*datum.x-6.57*datum.y","as":"ax"},{"calculate":"2.27*datum.x+3*datum.y+6.74*(datum.z+5)","as":"ay"},{"window":[{"op":"lead","field":"ax","param":1,"as":"bx"},{"op":"lead","field":"ay","param":1,"as":"by"},{"op":"lead","field":"z","param":1,"as":"bz"}],"groupby":["y"],"sort":[{"field":"x","order":"ascending"}]},{"window":[{"op":"lead","field":"ax","param":1,"as":"cx"},{"op":"lead","field":"ay","param":1,"as":"cy"},{"op":"lead","field":"z","param":1,"as":"cz"},{"op":"lead","field":"bx","param":1,"as":"dx"},{"op":"lead","field":"by","param":1,"as":"dy"},{"op":"lead","field":"bz","param":1,"as":"dz"}],"groupby":["x"],"sort":[{"field":"y","order":"ascending"}]},{"filter":"datum.dx!=null"},{"calculate":"[0.1,0.35,0.6,0.85]","as":"v"},{"flatten":["v"]},{"calculate":"datum.ax+(datum.cx-datum.ax)*datum.v","as":"lx"},{"calculate":"datum.ay+(datum.cy-datum.ay)*datum.v","as":"ly"},{"calculate":"datum.z+(datum.cz-datum.z)*datum.v","as":"lz"},{"calculate":"datum.bx+(datum.dx-datum.bx)*datum.v","as":"rx"},{"calculate":"datum.by+(datum.dy-datum.by)*datum.v","as":"ry"},{"calculate":"datum.bz+(datum.dz-datum.bz)*datum.v","as":"rz"},{"calculate":"[0,0.333,0.667]","as":"u"},{"flatten":["u"]},{"calculate":"datum.lx+(datum.rx-datum.lx)*datum.u","as":"sx"},{"calculate":"datum.ly+(datum.ry-datum.ly)*datum.u","as":"sy"},{"calculate":"datum.lx+(datum.rx-datum.lx)*(datum.u+0.333)","as":"sx2"},{"calculate":"datum.ly+(datum.ry-datum.ly)*(datum.u+0.333)","as":"sy2"},{"calculate":"datum.lz+(datum.rz-datum.lz)*(datum.u+0.167)","as":"zm"},{"calculate":"0.61*(datum.x+0.4*datum.u)+0.79*(datum.y+0.4*datum.v)","as":"depth"}],"mark":{"type":"rule","strokeWidth":3,"strokeCap":"round"},"encoding":{"x2":{"field":"sx2"},"y2":{"field":"sy2"},"order":{"field":"depth","sort":"descending"},"color":{"field":"zm","type":"quantitative","legend":null,"scale":{"domain":[-5,5],"range":["#352a87","#0f5cdd","#1481d6","#06a4ca","#2eb7a4","#87bf77","#d1bb59","#fec832","#f9fb0e"]}}}},
{"data":{"name":"frame"},"transform":[{"filter":"datum.kind=='axis'"},{"calculate":"8.56*datum.x-6.57*datum.y","as":"sx"},{"calculate":"2.27*datum.x+3*datum.y+6.74*(datum.z+5)","as":"sy"},{"calculate":"8.56*datum.x2-6.57*datum.y2","as":"sx2"},{"calculate":"2.27*datum.x2+3*datum.y2+6.74*(datum.z2+5)","as":"sy2"}],"mark":{"type":"rule","color":"#444444","strokeWidth":1},"encoding":{"x2":{"field":"sx2"},"y2":{"field":"sy2"}}},
{"data":{"name":"ticks"},"transform":[{"calculate":"8.56*datum.x-6.57*datum.y+(datum.axis=='z'?(datum.label=='-5'?-10.3:-8):datum.axis=='y'?(datum.label=='10'?-11:-9):(datum.label=='10'?10:7.3))","as":"sx"},{"calculate":"2.27*datum.x+3*datum.y+6.74*(datum.z+5)-(datum.axis=='z'?(datum.label=='-5'?-1.5:-1):datum.axis=='y'?(datum.label=='10'?8:7.5):8.5)","as":"sy"}],"mark":{"type":"text","font":"Liberation Sans","fontSize":9,"color":"#444444","align":"center","baseline":"middle"},"encoding":{"text":{"field":"label"}}}]},
{"title":"Colormap(jet)","width":208,"height":150,"encoding":{"x":{"field":"sx","type":"quantitative","scale":{"domain":[-94,114],"nice":false,"zero":false},"axis":null},"y":{"field":"sy","type":"quantitative","scale":{"domain":[-27,123],"nice":false,"zero":false},"axis":null}},"layer":[
{"data":{"name":"frame"},"transform":[{"filter":"datum.kind=='grid'"},{"calculate":"8.56*datum.x-6.57*datum.y","as":"sx"},{"calculate":"2.27*datum.x+3*datum.y+6.74*(datum.z+5)","as":"sy"},{"calculate":"8.56*datum.x2-6.57*datum.y2","as":"sx2"},{"calculate":"2.27*datum.x2+3*datum.y2+6.74*(datum.z2+5)","as":"sy2"}],"mark":{"type":"rule","color":"#e3e3e3","strokeWidth":1},"encoding":{"x2":{"field":"sx2"},"y2":{"field":"sy2"}}},
{"data":{"name":"surface"},"transform":[{"calculate":"8.56*datum.x-6.57*datum.y","as":"ax"},{"calculate":"2.27*datum.x+3*datum.y+6.74*(datum.z+5)","as":"ay"},{"window":[{"op":"lead","field":"ax","param":1,"as":"bx"},{"op":"lead","field":"ay","param":1,"as":"by"},{"op":"lead","field":"z","param":1,"as":"bz"}],"groupby":["y"],"sort":[{"field":"x","order":"ascending"}]},{"window":[{"op":"lead","field":"ax","param":1,"as":"cx"},{"op":"lead","field":"ay","param":1,"as":"cy"},{"op":"lead","field":"z","param":1,"as":"cz"},{"op":"lead","field":"bx","param":1,"as":"dx"},{"op":"lead","field":"by","param":1,"as":"dy"},{"op":"lead","field":"bz","param":1,"as":"dz"}],"groupby":["x"],"sort":[{"field":"y","order":"ascending"}]},{"filter":"datum.dx!=null"},{"calculate":"[0.1,0.35,0.6,0.85]","as":"v"},{"flatten":["v"]},{"calculate":"datum.ax+(datum.cx-datum.ax)*datum.v","as":"lx"},{"calculate":"datum.ay+(datum.cy-datum.ay)*datum.v","as":"ly"},{"calculate":"datum.z+(datum.cz-datum.z)*datum.v","as":"lz"},{"calculate":"datum.bx+(datum.dx-datum.bx)*datum.v","as":"rx"},{"calculate":"datum.by+(datum.dy-datum.by)*datum.v","as":"ry"},{"calculate":"datum.bz+(datum.dz-datum.bz)*datum.v","as":"rz"},{"calculate":"[0,0.333,0.667]","as":"u"},{"flatten":["u"]},{"calculate":"datum.lx+(datum.rx-datum.lx)*datum.u","as":"sx"},{"calculate":"datum.ly+(datum.ry-datum.ly)*datum.u","as":"sy"},{"calculate":"datum.lx+(datum.rx-datum.lx)*(datum.u+0.333)","as":"sx2"},{"calculate":"datum.ly+(datum.ry-datum.ly)*(datum.u+0.333)","as":"sy2"},{"calculate":"datum.lz+(datum.rz-datum.lz)*(datum.u+0.167)","as":"zm"},{"calculate":"0.61*(datum.x+0.4*datum.u)+0.79*(datum.y+0.4*datum.v)","as":"depth"}],"mark":{"type":"rule","strokeWidth":3,"strokeCap":"round"},"encoding":{"x2":{"field":"sx2"},"y2":{"field":"sy2"},"order":{"field":"depth","sort":"descending"},"color":{"field":"zm","type":"quantitative","legend":null,"scale":{"domain":[-5,5],"range":["#00007f","#0000ff","#007fff","#00ffff","#7fff7f","#ffff00","#ff7f00","#ff0000","#7f0000"]}}}},
{"data":{"name":"frame"},"transform":[{"filter":"datum.kind=='axis'"},{"calculate":"8.56*datum.x-6.57*datum.y","as":"sx"},{"calculate":"2.27*datum.x+3*datum.y+6.74*(datum.z+5)","as":"sy"},{"calculate":"8.56*datum.x2-6.57*datum.y2","as":"sx2"},{"calculate":"2.27*datum.x2+3*datum.y2+6.74*(datum.z2+5)","as":"sy2"}],"mark":{"type":"rule","color":"#444444","strokeWidth":1},"encoding":{"x2":{"field":"sx2"},"y2":{"field":"sy2"}}},
{"data":{"name":"ticks"},"transform":[{"calculate":"8.56*datum.x-6.57*datum.y+(datum.axis=='z'?(datum.label=='-5'?-10.3:-8):datum.axis=='y'?(datum.label=='10'?-11:-9):(datum.label=='10'?10:7.3))","as":"sx"},{"calculate":"2.27*datum.x+3*datum.y+6.74*(datum.z+5)-(datum.axis=='z'?(datum.label=='-5'?-1.5:-1):datum.axis=='y'?(datum.label=='10'?8:7.5):8.5)","as":"sy"}],"mark":{"type":"text","font":"Liberation Sans","fontSize":9,"color":"#444444","align":"center","baseline":"middle"},"encoding":{"text":{"field":"label"}}}]},
{"title":"Colormap(bone)","width":208,"height":150,"encoding":{"x":{"field":"sx","type":"quantitative","scale":{"domain":[-94,114],"nice":false,"zero":false},"axis":null},"y":{"field":"sy","type":"quantitative","scale":{"domain":[-27,123],"nice":false,"zero":false},"axis":null}},"layer":[
{"data":{"name":"frame"},"transform":[{"filter":"datum.kind=='grid'"},{"calculate":"8.56*datum.x-6.57*datum.y","as":"sx"},{"calculate":"2.27*datum.x+3*datum.y+6.74*(datum.z+5)","as":"sy"},{"calculate":"8.56*datum.x2-6.57*datum.y2","as":"sx2"},{"calculate":"2.27*datum.x2+3*datum.y2+6.74*(datum.z2+5)","as":"sy2"}],"mark":{"type":"rule","color":"#e3e3e3","strokeWidth":1},"encoding":{"x2":{"field":"sx2"},"y2":{"field":"sy2"}}},
{"data":{"name":"surface"},"transform":[{"calculate":"8.56*datum.x-6.57*datum.y","as":"ax"},{"calculate":"2.27*datum.x+3*datum.y+6.74*(datum.z+5)","as":"ay"},{"window":[{"op":"lead","field":"ax","param":1,"as":"bx"},{"op":"lead","field":"ay","param":1,"as":"by"},{"op":"lead","field":"z","param":1,"as":"bz"}],"groupby":["y"],"sort":[{"field":"x","order":"ascending"}]},{"window":[{"op":"lead","field":"ax","param":1,"as":"cx"},{"op":"lead","field":"ay","param":1,"as":"cy"},{"op":"lead","field":"z","param":1,"as":"cz"},{"op":"lead","field":"bx","param":1,"as":"dx"},{"op":"lead","field":"by","param":1,"as":"dy"},{"op":"lead","field":"bz","param":1,"as":"dz"}],"groupby":["x"],"sort":[{"field":"y","order":"ascending"}]},{"filter":"datum.dx!=null"},{"calculate":"[0.1,0.35,0.6,0.85]","as":"v"},{"flatten":["v"]},{"calculate":"datum.ax+(datum.cx-datum.ax)*datum.v","as":"lx"},{"calculate":"datum.ay+(datum.cy-datum.ay)*datum.v","as":"ly"},{"calculate":"datum.z+(datum.cz-datum.z)*datum.v","as":"lz"},{"calculate":"datum.bx+(datum.dx-datum.bx)*datum.v","as":"rx"},{"calculate":"datum.by+(datum.dy-datum.by)*datum.v","as":"ry"},{"calculate":"datum.bz+(datum.dz-datum.bz)*datum.v","as":"rz"},{"calculate":"[0,0.333,0.667]","as":"u"},{"flatten":["u"]},{"calculate":"datum.lx+(datum.rx-datum.lx)*datum.u","as":"sx"},{"calculate":"datum.ly+(datum.ry-datum.ly)*datum.u","as":"sy"},{"calculate":"datum.lx+(datum.rx-datum.lx)*(datum.u+0.333)","as":"sx2"},{"calculate":"datum.ly+(datum.ry-datum.ly)*(datum.u+0.333)","as":"sy2"},{"calculate":"datum.lz+(datum.rz-datum.lz)*(datum.u+0.167)","as":"zm"},{"calculate":"0.61*(datum.x+0.4*datum.u)+0.79*(datum.y+0.4*datum.v)","as":"depth"}],"mark":{"type":"rule","strokeWidth":3,"strokeCap":"round"},"encoding":{"x2":{"field":"sx2"},"y2":{"field":"sy2"},"order":{"field":"depth","sort":"descending"},"color":{"field":"zm","type":"quantitative","legend":null,"scale":{"domain":[-5,-1.25,2.5,5],"range":["#000000","#515171","#a6c6c6","#ffffff"]}}}},
{"data":{"name":"frame"},"transform":[{"filter":"datum.kind=='axis'"},{"calculate":"8.56*datum.x-6.57*datum.y","as":"sx"},{"calculate":"2.27*datum.x+3*datum.y+6.74*(datum.z+5)","as":"sy"},{"calculate":"8.56*datum.x2-6.57*datum.y2","as":"sx2"},{"calculate":"2.27*datum.x2+3*datum.y2+6.74*(datum.z2+5)","as":"sy2"}],"mark":{"type":"rule","color":"#444444","strokeWidth":1},"encoding":{"x2":{"field":"sx2"},"y2":{"field":"sy2"}}},
{"data":{"name":"ticks"},"transform":[{"calculate":"8.56*datum.x-6.57*datum.y+(datum.axis=='z'?(datum.label=='-5'?-10.3:-8):datum.axis=='y'?(datum.label=='10'?-11:-9):(datum.label=='10'?10:7.3))","as":"sx"},{"calculate":"2.27*datum.x+3*datum.y+6.74*(datum.z+5)-(datum.axis=='z'?(datum.label=='-5'?-1.5:-1):datum.axis=='y'?(datum.label=='10'?8:7.5):8.5)","as":"sy"}],"mark":{"type":"text","font":"Liberation Sans","fontSize":9,"color":"#444444","align":"center","baseline":"middle"},"encoding":{"text":{"field":"label"}}}]},
{"title":"Colormap(summer)","width":208,"height":150,"encoding":{"x":{"field":"sx","type":"quantitative","scale":{"domain":[-94,114],"nice":false,"zero":false},"axis":null},"y":{"field":"sy","type":"quantitative","scale":{"domain":[-27,123],"nice":false,"zero":false},"axis":null}},"layer":[
{"data":{"name":"frame"},"transform":[{"filter":"datum.kind=='grid'"},{"calculate":"8.56*datum.x-6.57*datum.y","as":"sx"},{"calculate":"2.27*datum.x+3*datum.y+6.74*(datum.z+5)","as":"sy"},{"calculate":"8.56*datum.x2-6.57*datum.y2","as":"sx2"},{"calculate":"2.27*datum.x2+3*datum.y2+6.74*(datum.z2+5)","as":"sy2"}],"mark":{"type":"rule","color":"#e3e3e3","strokeWidth":1},"encoding":{"x2":{"field":"sx2"},"y2":{"field":"sy2"}}},
{"data":{"name":"surface"},"transform":[{"calculate":"8.56*datum.x-6.57*datum.y","as":"ax"},{"calculate":"2.27*datum.x+3*datum.y+6.74*(datum.z+5)","as":"ay"},{"window":[{"op":"lead","field":"ax","param":1,"as":"bx"},{"op":"lead","field":"ay","param":1,"as":"by"},{"op":"lead","field":"z","param":1,"as":"bz"}],"groupby":["y"],"sort":[{"field":"x","order":"ascending"}]},{"window":[{"op":"lead","field":"ax","param":1,"as":"cx"},{"op":"lead","field":"ay","param":1,"as":"cy"},{"op":"lead","field":"z","param":1,"as":"cz"},{"op":"lead","field":"bx","param":1,"as":"dx"},{"op":"lead","field":"by","param":1,"as":"dy"},{"op":"lead","field":"bz","param":1,"as":"dz"}],"groupby":["x"],"sort":[{"field":"y","order":"ascending"}]},{"filter":"datum.dx!=null"},{"calculate":"[0.1,0.35,0.6,0.85]","as":"v"},{"flatten":["v"]},{"calculate":"datum.ax+(datum.cx-datum.ax)*datum.v","as":"lx"},{"calculate":"datum.ay+(datum.cy-datum.ay)*datum.v","as":"ly"},{"calculate":"datum.z+(datum.cz-datum.z)*datum.v","as":"lz"},{"calculate":"datum.bx+(datum.dx-datum.bx)*datum.v","as":"rx"},{"calculate":"datum.by+(datum.dy-datum.by)*datum.v","as":"ry"},{"calculate":"datum.bz+(datum.dz-datum.bz)*datum.v","as":"rz"},{"calculate":"[0,0.333,0.667]","as":"u"},{"flatten":["u"]},{"calculate":"datum.lx+(datum.rx-datum.lx)*datum.u","as":"sx"},{"calculate":"datum.ly+(datum.ry-datum.ly)*datum.u","as":"sy"},{"calculate":"datum.lx+(datum.rx-datum.lx)*(datum.u+0.333)","as":"sx2"},{"calculate":"datum.ly+(datum.ry-datum.ly)*(datum.u+0.333)","as":"sy2"},{"calculate":"datum.lz+(datum.rz-datum.lz)*(datum.u+0.167)","as":"zm"},{"calculate":"0.61*(datum.x+0.4*datum.u)+0.79*(datum.y+0.4*datum.v)","as":"depth"}],"mark":{"type":"rule","strokeWidth":3,"strokeCap":"round"},"encoding":{"x2":{"field":"sx2"},"y2":{"field":"sy2"},"order":{"field":"depth","sort":"descending"},"color":{"field":"zm","type":"quantitative","legend":null,"scale":{"domain":[-5,5],"range":["#008066","#ffff66"]}}}},
{"data":{"name":"frame"},"transform":[{"filter":"datum.kind=='axis'"},{"calculate":"8.56*datum.x-6.57*datum.y","as":"sx"},{"calculate":"2.27*datum.x+3*datum.y+6.74*(datum.z+5)","as":"sy"},{"calculate":"8.56*datum.x2-6.57*datum.y2","as":"sx2"},{"calculate":"2.27*datum.x2+3*datum.y2+6.74*(datum.z2+5)","as":"sy2"}],"mark":{"type":"rule","color":"#444444","strokeWidth":1},"encoding":{"x2":{"field":"sx2"},"y2":{"field":"sy2"}}},
{"data":{"name":"ticks"},"transform":[{"calculate":"8.56*datum.x-6.57*datum.y+(datum.axis=='z'?(datum.label=='-5'?-10.3:-8):datum.axis=='y'?(datum.label=='10'?-11:-9):(datum.label=='10'?10:7.3))","as":"sx"},{"calculate":"2.27*datum.x+3*datum.y+6.74*(datum.z+5)-(datum.axis=='z'?(datum.label=='-5'?-1.5:-1):datum.axis=='y'?(datum.label=='10'?8:7.5):8.5)","as":"sy"}],"mark":{"type":"text","font":"Liberation Sans","fontSize":9,"color":"#444444","align":"center","baseline":"middle"},"encoding":{"text":{"field":"label"}}}]}
]}
